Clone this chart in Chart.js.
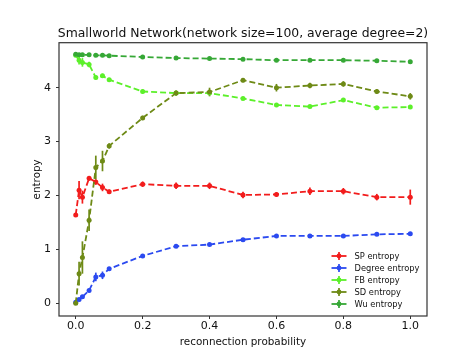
<!DOCTYPE html>
<html><head><meta charset="utf-8">
<script src="https://cdn.jsdelivr.net/npm/chart.js@4/dist/chart.umd.min.js"></script>
<style>html,body{margin:0;padding:0;background:#fff;}#wrap{width:474px;height:355px;}</style>
</head><body><div id="wrap"><canvas id="c" width="474" height="355"></canvas></div>
<script>
const probs = [0, 0.01, 0.02, 0.04, 0.06, 0.08, 0.1, 0.2, 0.3, 0.4, 0.5, 0.6, 0.7, 0.8, 0.9, 1.0];
const spEntropy = [1.64, 2.10, 1.97, 2.32, 2.25, 2.15, 2.07, 2.21, 2.18, 2.18, 2.01, 2.02, 2.08, 2.08, 1.97, 1.97];
const spErr = [0.03, 0.17, 0.12, 0.04, 0.05, 0.07, 0.04, 0.05, 0.06, 0.06, 0.06, 0.04, 0.07, 0.06, 0.06, 0.14];
const degreeEntropy = [0.02, 0.07, 0.12, 0.24, 0.49, 0.52, 0.64, 0.88, 1.06, 1.09, 1.18, 1.25, 1.25, 1.25, 1.28, 1.29];
const degreeErr = [0.01, 0.03, 0.03, 0.03, 0.08, 0.07, 0.03, 0.02, 0.02, 0.02, 0.02, 0.02, 0.02, 0.02, 0.02, 0.02];
const fbEntropy = [4.60, 4.51, 4.47, 4.43, 4.19, 4.22, 4.15, 3.93, 3.90, 3.90, 3.80, 3.68, 3.65, 3.77, 3.63, 3.64];
const fbErr = [0.01, 0.08, 0.08, 0.05, 0.04, 0.04, 0.03, 0.04, 0.04, 0.03, 0.03, 0.03, 0.03, 0.03, 0.03, 0.03];
const sdEntropy = [0.0, 0.55, 0.85, 1.54, 2.52, 2.64, 2.92, 3.44, 3.90, 3.92, 4.14, 4.00, 4.04, 4.07, 3.93, 3.84];
const sdErr = [0.01, 0.22, 0.30, 0.20, 0.22, 0.19, 0.05, 0.04, 0.05, 0.08, 0.04, 0.07, 0.05, 0.05, 0.04, 0.06];
const wuEntropy = [4.62, 4.61, 4.61, 4.61, 4.60, 4.60, 4.595, 4.57, 4.55, 4.54, 4.53, 4.51, 4.51, 4.51, 4.50, 4.48];
const wuErr = [0.01, 0.01, 0.01, 0.01, 0.01, 0.01, 0.01, 0.01, 0.01, 0.01, 0.01, 0.01, 0.01, 0.01, 0.01, 0.02];
const seriesNames = ['SP entropy', 'Degree entropy', 'FB entropy', 'SD entropy', 'Wu entropy'];
const xTicks = [0, 0.2, 0.4, 0.6, 0.8, 1.0];
const yTicks = [0, 1, 2, 3, 4];
const titleText = 'Smallworld Network(network size=100, average degree=2)';
const xTitle = 'reconnection probability';
const yTitle = 'entropy';

const colors = ['#f21c1c', '#2b4af0', '#5cf02a', '#6e8a16', '#36a836'];
const values = [spEntropy, degreeEntropy, fbEntropy, sdEntropy, wuEntropy];
const errs = [spErr, degreeErr, fbErr, sdErr, wuErr];
const FONT = "'DejaVu Sans', sans-serif";

const datasets = values.map((vals, i) => ({
  label: seriesNames[i],
  data: vals.map((v, j) => ({x: probs[j], y: v})),
  borderColor: colors[i],
  backgroundColor: colors[i],
  borderWidth: 1.8,
  borderDash: [6, 3],
  pointRadius: 2.5,
  pointBorderWidth: 0,
  pointHoverRadius: 2.5,
  tension: 0,
  order: 5 - i,
  errs: errs[i]
}));

const overlay = {
  id: 'overlay',
  beforeDatasetsDraw(chart) {
    const ctx = chart.ctx, xs = chart.scales.x, ys = chart.scales.y;
    ctx.save();
    ctx.lineWidth = 1.7;
    chart.data.datasets.forEach(ds => {
      ctx.strokeStyle = ds.borderColor;
      ds.data.forEach((p, j) => {
        const e = ds.errs[j];
        const px = xs.getPixelForValue(p.x);
        ctx.beginPath();
        ctx.moveTo(px, ys.getPixelForValue(p.y - e));
        ctx.lineTo(px, ys.getPixelForValue(p.y + e));
        ctx.stroke();
      });
    });
    ctx.restore();
  },
  afterDraw(chart) {
    const ctx = chart.ctx, a = chart.chartArea;
    ctx.save();
    ctx.strokeStyle = '#333';
    ctx.lineWidth = 1.2;
    ctx.strokeRect(a.left, a.top, a.right - a.left, a.bottom - a.top);
    ctx.fillStyle = '#111';
    ctx.font = '12.4px ' + FONT;
    ctx.textAlign = 'center';
    ctx.textBaseline = 'alphabetic';
    ctx.fillText(titleText, (a.left + a.right) / 2, 37);
    ctx.font = '10.4px ' + FONT;
    ctx.fillText(xTitle, (a.left + a.right) / 2, 345);
    ctx.save();
    ctx.translate(39.5, (a.top + a.bottom) / 2);
    ctx.rotate(-Math.PI / 2);
    ctx.fillText(yTitle, 0, 0);
    ctx.restore();
    // legend
    ctx.font = '8.3px ' + FONT;
    ctx.textAlign = 'left';
    ctx.textBaseline = 'middle';
    seriesNames.forEach((n, i) => {
      const y = 256 + i * 12;
      ctx.strokeStyle = colors[i];
      ctx.fillStyle = colors[i];
      ctx.lineWidth = 1.8;
      ctx.beginPath(); ctx.moveTo(331.5, y); ctx.lineTo(346.5, y); ctx.stroke();
      ctx.lineWidth = 1.7;
      ctx.beginPath(); ctx.moveTo(339, y - 4); ctx.lineTo(339, y + 4); ctx.stroke();
      ctx.beginPath(); ctx.arc(339, y, 2.4, 0, Math.PI * 2); ctx.fill();
      ctx.fillStyle = '#111';
      ctx.fillText(n, 354.5, y + 0.5);
    });
    ctx.restore();
  }
};

new Chart(document.getElementById('c'), {
  type: 'line',
  data: {datasets},
  options: {
    responsive: false,
    animation: false,
    devicePixelRatio: 1,
    layout: {padding: {left: 0, top: 42.7, right: 47, bottom: 0}},
    plugins: {legend: {display: false}, title: {display: false}, tooltip: {enabled: false}},
    scales: {
      x: {
        type: 'linear', min: -0.05, max: 1.05,
        afterFit(s) { s.height = 355 - 316; },
        afterBuildTicks(s) { s.ticks = xTicks.map(v => ({value: v})); },
        grid: {drawOnChartArea: false, drawTicks: true, tickLength: 3, tickColor: '#333', tickWidth: 1},
        border: {display: false},
        ticks: {padding: 1, color: '#111', font: {family: FONT, size: 11}, maxRotation: 0,
          callback: v => v.toFixed(1)}
      },
      y: {
        type: 'linear', min: -0.235, max: 4.835,
        afterFit(s) { s.width = 59; },
        afterBuildTicks(s) { s.ticks = yTicks.map(v => ({value: v})); },
        grid: {drawOnChartArea: false, drawTicks: true, tickLength: 3, tickColor: '#333', tickWidth: 1},
        border: {display: false},
        ticks: {padding: 5, color: '#111', font: {family: FONT, size: 11},
          callback: v => String(v)}
      }
    }
  },
  plugins: [overlay]
});
</script></body></html>
